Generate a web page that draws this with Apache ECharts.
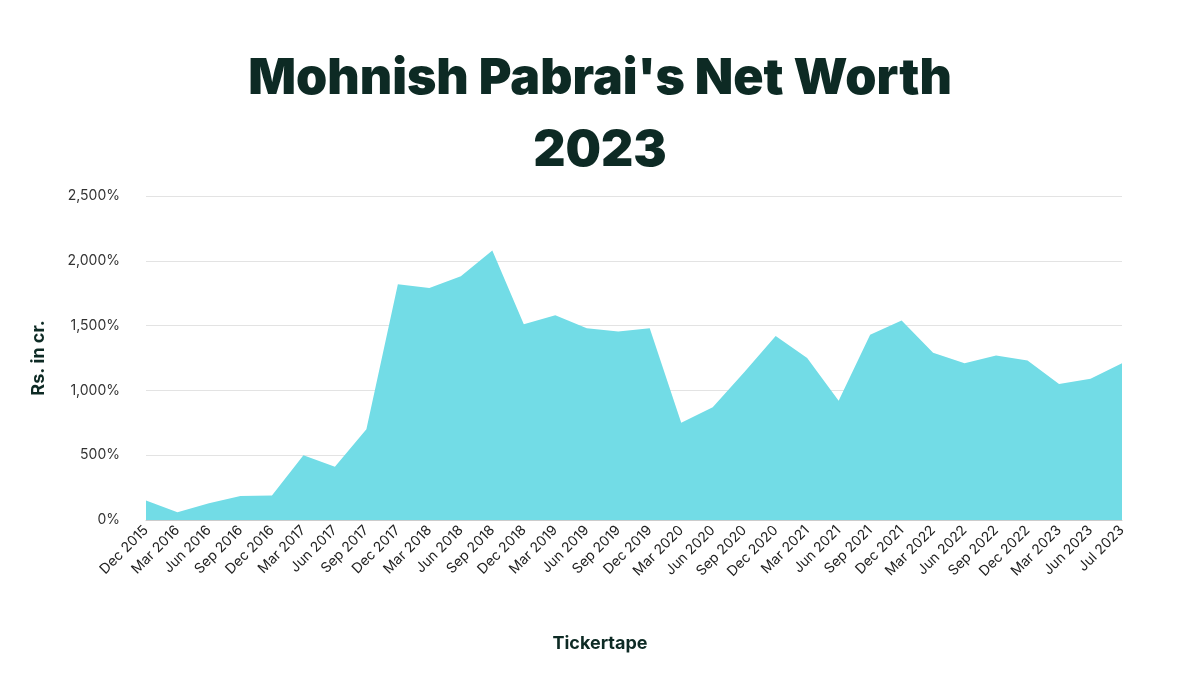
<!DOCTYPE html><html><head><meta charset="utf-8"><script src="https://cdn.jsdelivr.net/npm/echarts@6/dist/echarts.min.js"></script></head><body style="margin:0;background:#fff"><div id="c" style="width:1200px;height:675px"></div><script>
const categories=["Dec 2015","Mar 2016","Jun 2016","Sep 2016","Dec 2016","Mar 2017","Jun 2017","Sep 2017","Dec 2017","Mar 2018","Jun 2018","Sep 2018","Dec 2018","Mar 2019","Jun 2019","Sep 2019","Dec 2019","Mar 2020","Jun 2020","Sep 2020","Dec 2020","Mar 2021","Jun 2021","Sep 2021","Dec 2021","Mar 2022","Jun 2022","Sep 2022","Dec 2022","Mar 2023","Jun 2023","Jul 2023"];
const values=[150,60,130,185,190,500,410,700,1820,1790,1880,2080,1510,1580,1480,1455,1480,750,870,1140,1420,1250,920,1430,1540,1290,1210,1270,1230,1050,1090,1210];
const c=echarts.init(document.getElementById('c'));
c.setOption({animation:false,
title:[{text:"Mohnish Pabrai's Net Worth\n2023",left:'center',top:38,textStyle:{fontFamily:'Inter',fontWeight:900,fontSize:50,lineHeight:72,color:'#0d2a24'}},
{text:'Tickertape',left:'center',top:630,textStyle:{fontFamily:'Inter',fontWeight:700,fontSize:18,color:'#0d2a24'}}],
grid:{left:146,right:78,top:196,bottom:155},
xAxis:{type:'category',data:categories,boundaryGap:false,
axisLine:{lineStyle:{color:'#ccc'}},axisTick:{show:false},axisLabel:{rotate:45,interval:0,fontFamily:'Inter',fontSize:14,color:'#222',margin:8}},
yAxis:{type:'value',min:0,max:2500,interval:500,name:'Rs. in cr.',nameLocation:'middle',nameGap:98,nameTextStyle:{fontFamily:'Inter',fontWeight:700,fontSize:18,color:'#0d2a24'},
axisLabel:{formatter:v=>v.toLocaleString('en-US')+'%',fontFamily:'Inter',fontSize:14,color:'#333',margin:26},splitLine:{lineStyle:{color:'#e3e3e3'}},axisLine:{show:false}},
series:[{type:'line',data:values,symbol:'none',lineStyle:{width:0},areaStyle:{color:'#72dce6',opacity:1}}]});
</script></body></html>
